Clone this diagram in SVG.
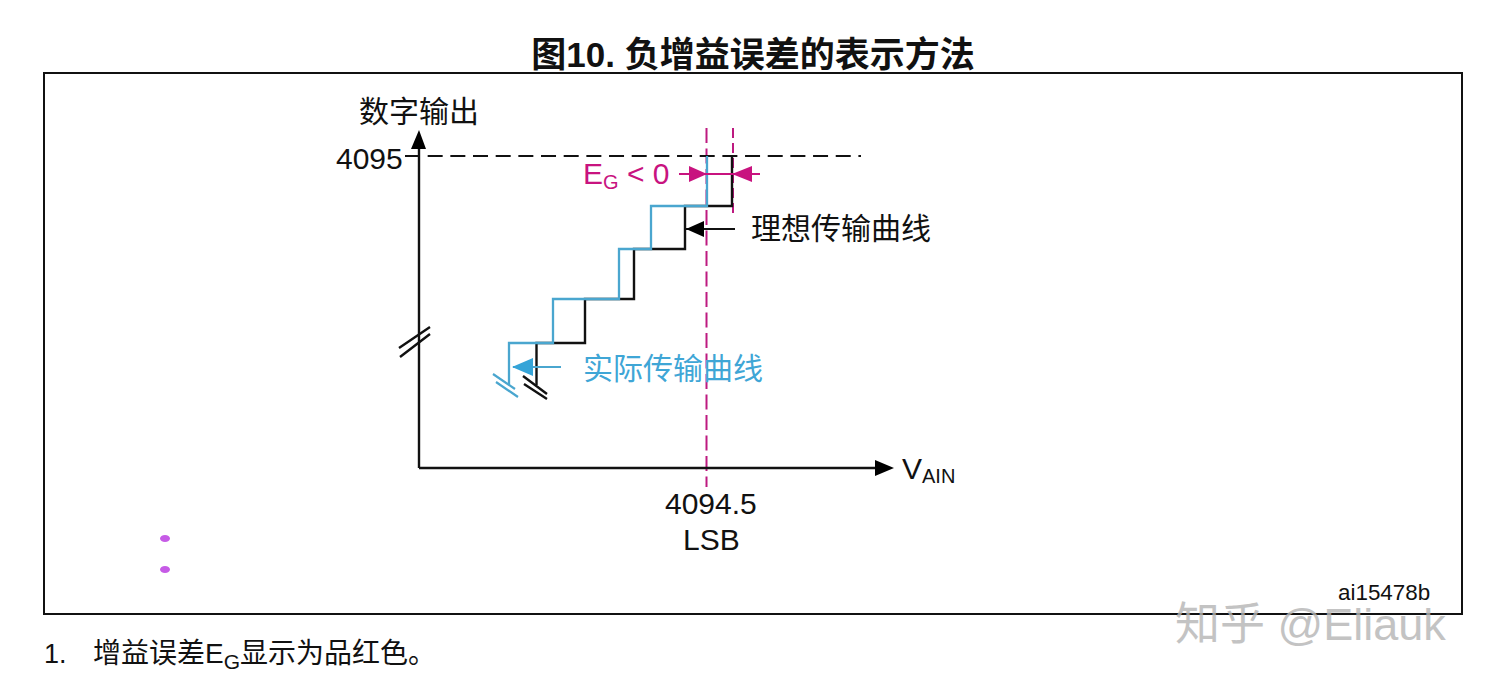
<svg xmlns="http://www.w3.org/2000/svg" width="1485" height="683" viewBox="0 0 1485 683">
<style>
text{font-family:"Liberation Sans","Noto Sans CJK SC",sans-serif;fill:#111}
.t30{font-size:30px}
.blk{fill:none;stroke:#111;stroke-width:2.4}
.blu{fill:none;stroke:#4aa6cf;stroke-width:2.3}
.mag{fill:none;stroke:#bd1a80;stroke-width:2}
.m{fill:#c8137f}
.b{fill:#35a4d8}
.k{fill:#000}
</style>
<rect width="1485" height="683" fill="#fff"/>
<g id="title"><text x="753" y="67" text-anchor="middle" font-size="35" font-weight="700">图10. 负增益误差的表示方法</text></g>
<g id="frame"><rect x="44" y="73" width="1418" height="541" fill="none" stroke="#111" stroke-width="2"/></g>
<g id="connectors">
<path class="mag" stroke-dasharray="15 5.500" d="M706.500 128V487"/>
<path class="mag" stroke-dasharray="10 5" d="M733 128V216"/>
<path class="blk" d="M419 468V146M419 468H876"/>
<path class="k" d="M411 149L419 130L426 149ZM875 460L894 468L875 476Z"/>
<path class="blk" stroke-dasharray="15 7.670" style="stroke-width:2" d="M405 156H861"/>
<path class="blk" d="M399 348L430 327M400 357L430 334"/>
<path class="blk" d="M732 156V206H685V249H634V299H585V343H536.500V385"/>
<path class="blk" d="M523 376L547 394M524 384L547 399"/>
<path class="blu" d="M707 156V206H651V249H619V299H553V343H509V385"/>
<path class="blu" d="M493 374L515 389M496 382L518 397" style="stroke-width:2.200"/>
<path class="mag" style="stroke:#c8137f" d="M679 174H760"/>
<path class="m" d="M707 174L689 166V182ZM732 174L752 166V182Z"/>
<path class="blk" style="stroke-width:2" d="M686 229H735"/>
<path class="k" d="M686 229L704 221V237Z"/>
<path class="blu" style="stroke-width:2" d="M513 367H561"/>
<path class="b" d="M512 367L533 358V376Z"/>
</g>
<g id="y-label"><text class="t30" x="359" y="122">数字输出</text></g>
<g id="y-4095"><text class="t30" x="336" y="169">4095</text></g>
<g id="eg-label"><text class="t30" x="583" y="184" style="fill:#c8137f">E<tspan font-size="20" dy="5">G</tspan><tspan dy="-5"> &lt; 0</tspan></text></g>
<g id="ideal-label"><text class="t30" x="751" y="239">理想传输曲线</text></g>
<g id="actual-label"><text class="t30" x="583" y="379" style="fill:#3fa6d6">实际传输曲线</text></g>
<g id="x-label"><text class="t30" x="902" y="479">V<tspan font-size="20" dy="4">AIN</tspan></text></g>
<g id="x-value"><text class="t30" x="665" y="514">4094.5</text><text class="t30" x="683" y="550">LSB</text></g>
<g id="dots"><ellipse cx="165" cy="538.500" rx="5" ry="3.500" fill="#c65be6"/><ellipse cx="165" cy="569.500" rx="5" ry="3.500" fill="#c65be6"/></g>
<g id="code"><text x="1338" y="600" font-size="22.400">ai15478b</text></g>
<g id="footnote"><text x="44" y="663" font-size="27">1.</text><text x="93" y="663" font-size="28">增益误差E<tspan font-size="21" dy="6">G</tspan><tspan dy="-6">显示为品红色。</tspan></text></g>
<g id="watermark"><text x="1175" y="640" font-size="45" style="fill:#b5b5b5;opacity:.8">知乎 @Eliauk</text></g>
</svg>
